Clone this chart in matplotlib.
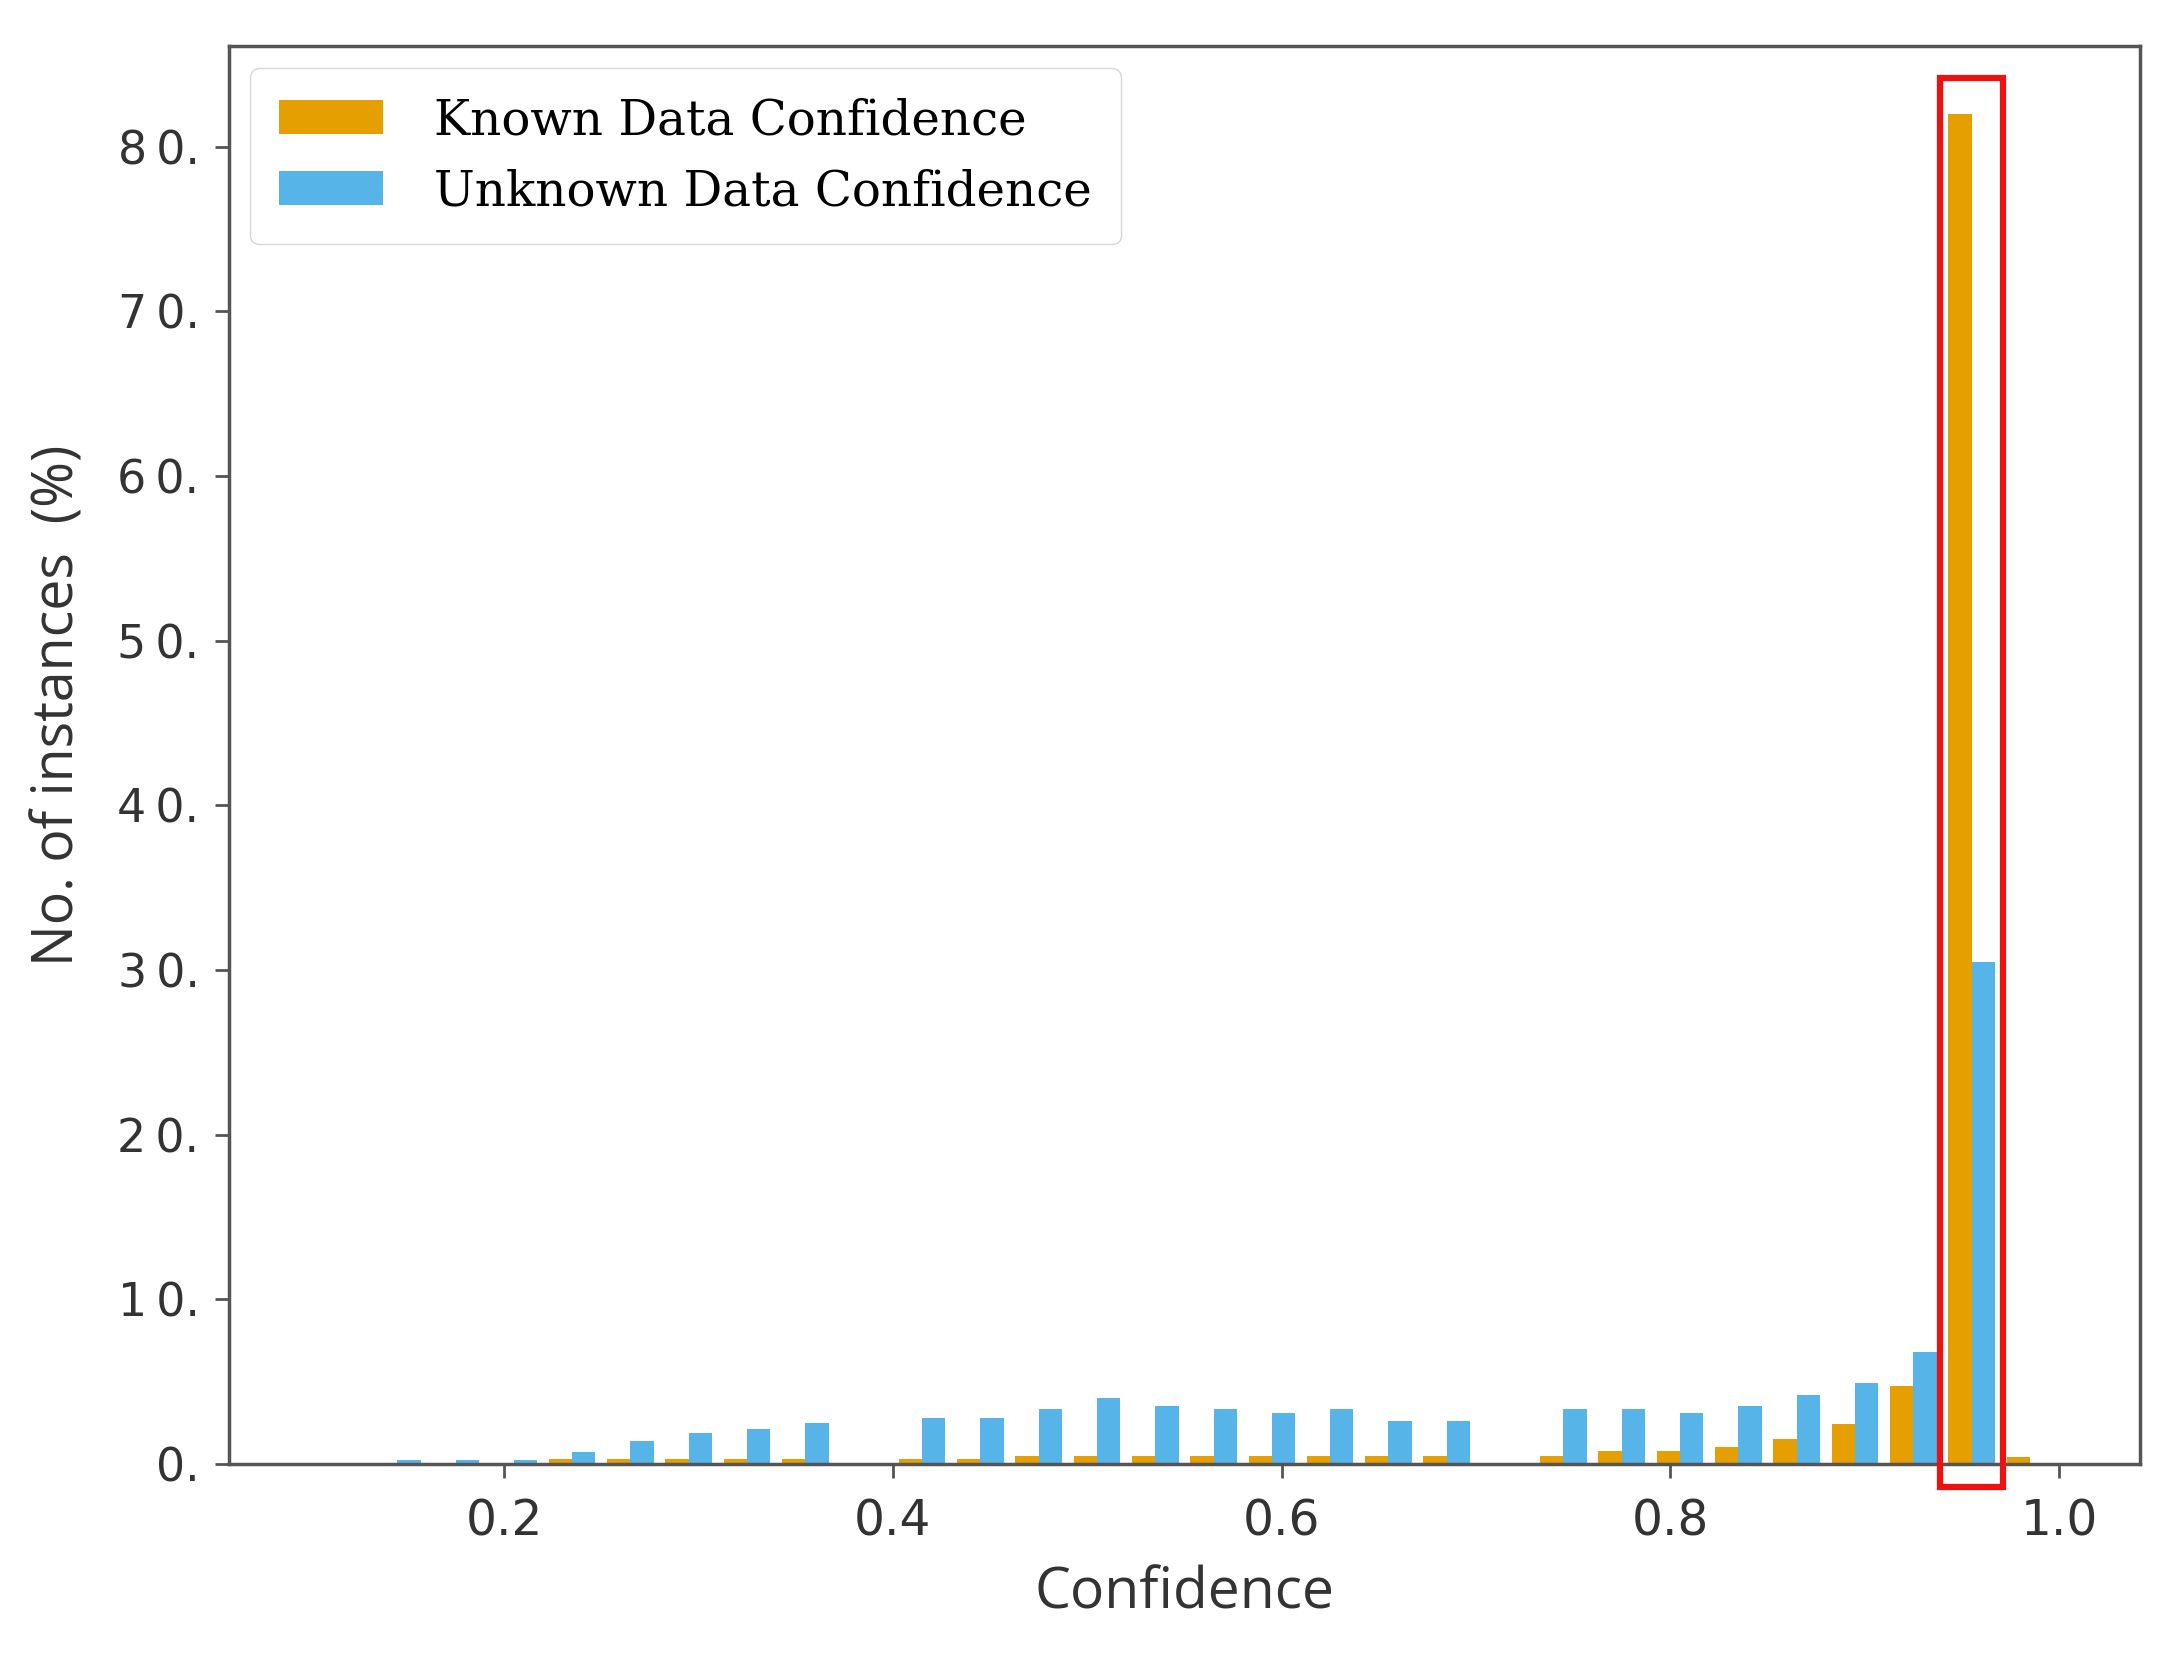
import matplotlib
matplotlib.use('Agg')
import matplotlib.pyplot as plt
import matplotlib.patches as mpatches
from matplotlib.ticker import FuncFormatter, MultipleLocator
import numpy as np

# confidence bins (0.1 .. 1.0, width 0.03) and share of instances per bin (%)
bin_start = 0.1
bin_stop = 1.0
n_bins = 30
known_pct = [0, 0, 0, 0, 0.3, 0.3, 0.3, 0.3, 0.3, 0,
             0.3, 0.3, 0.5, 0.5, 0.5, 0.5, 0.5, 0.5, 0.5, 0.5,
             0, 0.5, 0.8, 0.8, 1.0, 1.5, 2.4, 4.7, 82.0, 0.4]
unknown_pct = [0, 0.2, 0.2, 0.25, 0.7, 1.4, 1.9, 2.1, 2.5, 0,
               2.8, 2.8, 3.3, 4.0, 3.5, 3.3, 3.1, 3.3, 2.6, 2.6,
               0, 3.3, 3.3, 3.1, 3.5, 4.2, 4.9, 6.8, 30.5, 0]
labels = ['Known Data Confidence', 'Unknown Data Confidence']
colors = ['#E69F00', '#56B4E9']

edges = np.linspace(bin_start, bin_stop, n_bins + 1)
centers = (edges[:-1] + edges[1:]) / 2

fig = plt.figure(figsize=(21.78, 16.54), dpi=100)
ax = fig.add_axes([0.105, 0.115, 0.8776, 0.857])

ax.hist([centers, centers], bins=edges, weights=[known_pct, unknown_pct],
        color=colors, label=labels)
xlim, ylim = ax.get_xlim(), ax.get_ylim()

# red box around the peak bin
peak = int(np.argmax(known_pct))
box = mpatches.Rectangle((edges[peak] - 0.0014, -1.4), edges[peak + 1] - edges[peak] + 0.0028, 85.6,
                         fill=False, edgecolor='#EE1111', linewidth=4.5, clip_on=False, zorder=5)
ax.add_patch(box)
ax.set_xlim(xlim)
ax.set_ylim(ylim)


def spaced(v, pos):
    # y labels look like "8 0." in the original
    return '\u2009'.join(str(int(round(v)))) + '.'


ax.yaxis.set_major_locator(MultipleLocator(10))
ax.yaxis.set_major_formatter(FuncFormatter(spaced))
ax.set_xticks([0.2, 0.4, 0.6, 0.8, 1.0])

for s in ax.spines.values():
    s.set_color('#555555')
    s.set_linewidth(2.5)
ax.tick_params(axis='both', length=10, width=2, color='#555555', labelcolor='#333333')
ax.tick_params(axis='x', labelsize=35, pad=14)
ax.tick_params(axis='y', labelsize=33, pad=11)

ax.set_xlabel('Confidence', fontsize=41, family='Open Sans', color='#333333', labelpad=15)
ax.set_ylabel('No. of instances  (%)', fontsize=40, family='Open Sans', color='#333333')
ax.yaxis.set_label_coords(-0.074, 0.535)

ax.legend(loc='upper left', prop={'family': 'DejaVu Serif', 'size': 34.8},
          handlelength=2.15, handleheight=0.7, handletextpad=1.05, borderpad=0.6,
          labelspacing=0.5, borderaxespad=0.45)

fig.savefig('out.png', dpi=100)
